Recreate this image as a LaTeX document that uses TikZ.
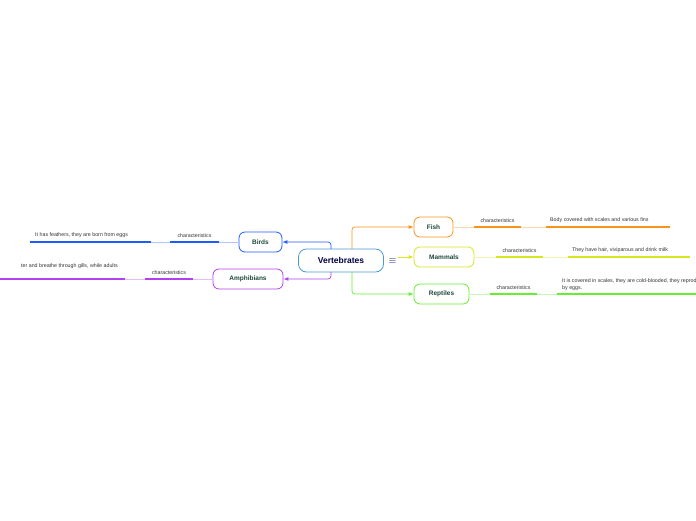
\documentclass[tikz,border=0pt]{standalone}
\usepackage{fontspec}
\setmainfont{Liberation Sans}
\begin{document}
\begin{tikzpicture}[x=1pt,y=-1pt,
  topic/.style={draw=#1,line width=0.8pt,rounded corners=6pt,fill=white,font=\bfseries\fontsize{6.5}{7}\selectfont,text=nodetxt,inner sep=0pt},
  sm/.style={font=\fontsize{5.3}{6.3}\selectfont,text=black!80,inner sep=0pt},
  thin/.style={draw=#1!35,line width=0.7pt},
  ul/.style={draw=#1,line width=1.3pt},
  con/.style={draw=#1,line width=0.7pt,rounded corners=3pt,-latex}]
\definecolor{cF}{HTML}{F7941D}\definecolor{cM}{HTML}{D7E61E}\definecolor{cR}{HTML}{66EE33}
\definecolor{cB}{HTML}{1F5CFF}\definecolor{cA}{HTML}{B040F0}\definecolor{cV}{HTML}{4A9AD6}
\definecolor{nodetxt}{HTML}{1E4A3C}
\useasboundingbox (0,0) rectangle (696,520);
\clip (0,0) rectangle (696,520);
\node[topic=cV,minimum width=85pt,minimum height=23pt,font=\bfseries\fontsize{8.5}{9}\selectfont,text={black!75!blue},rounded corners=8pt] (v) at (341,260.5) {Vertebrates};
\node[font=\fontsize{10}{10}\selectfont,text=black!65!blue] (ic) at (392.5,261) {$\equiv$};
\node[topic=cF,minimum width=39pt,minimum height=20pt] (f) at (433.5,227) {Fish};
\node[topic=cM,minimum width=60pt,minimum height=20pt] (m) at (444,257) {Mammals};
\node[topic=cR,minimum width=55pt,minimum height=20pt] (r) at (441.5,294) {Reptiles};
\node[topic=cB,minimum width=43pt,minimum height=20pt] (b) at (260.5,242) {Birds};
\node[topic=cA,minimum width=70pt,minimum height=20pt] (a) at (248,279) {Amphibians};
\draw[con=cF] (352,249) |- (f.west);
\draw[con=cR] (352,272) |- (r.west);
\draw[con=cM] (398,257) -- (m.west);
\draw[con=cB] (331,249) |- (b.east);
\draw[con=cA] (331,272) |- (a.east);
% Fish
\coordinate (f1) at (474,227);\coordinate (f2) at (521,227);\coordinate (f3) at (546,227);\coordinate (f4) at (670,227);
\draw[thin=cF] (f.east)--(f1) (f2)--(f3);\draw[ul=cF] (f1)--(f2) (f3)--(f4);
\node[sm,anchor=south] (ft1) at (497.5,223) {characteristics};
\node[sm,anchor=south west] (ft2) at (550,223) {Body covered with scales and various fins};
% Mammals
\coordinate (m1) at (496,257);\coordinate (m2) at (543,257);\coordinate (m3) at (568,257);\coordinate (m4) at (690,257);
\draw[thin=cM] (m.east)--(m1) (m2)--(m3);\draw[ul=cM] (m1)--(m2) (m3)--(m4);
\node[sm,anchor=south] (mt1) at (519.5,253) {characteristics};
\node[sm,anchor=south west] (mt2) at (572,253) {They have hair, viviparous and drink milk};
% Reptiles
\coordinate (r1) at (490,294);\coordinate (r2) at (537,294);\coordinate (r3) at (557,294);\coordinate (r4) at (700,294);
\draw[thin=cR] (r.east)--(r1) (r2)--(r3);\draw[ul=cR] (r1)--(r2) (r3)--(r4);
\node[sm,anchor=south] (rt1) at (513.5,290) {characteristics};
\node[sm,anchor=south west,align=left] (rt2) at (562,290.5) {It is covered in scales, they are cold-blooded, they reproduce\\by eggs.};
% Birds
\coordinate (b1) at (219,242);\coordinate (b2) at (170,242);\coordinate (b3) at (151,242);\coordinate (b4) at (30,242);
\draw[thin=cB] (b.west)--(b1) (b2)--(b3);\draw[ul=cB] (b1)--(b2) (b3)--(b4);
\node[sm,anchor=south] (bt1) at (194.5,238) {characteristics};
\node[sm,anchor=south west] (bt2) at (35,238) {It has feathers, they are born from eggs};
% Amphibians
\coordinate (a1) at (193,279);\coordinate (a2) at (145,279);\coordinate (a3) at (125,279);\coordinate (a4) at (-5,279);
\draw[thin=cA] (a.west)--(a1) (a2)--(a3);\draw[ul=cA] (a1)--(a2) (a3)--(a4);
\node[sm,anchor=south] (at1) at (169,275) {characteristics};
\node[sm,anchor=south east] (at2) at (118,268.5) {ter and breathe through gills, while adults};
\end{tikzpicture}
\end{document}
